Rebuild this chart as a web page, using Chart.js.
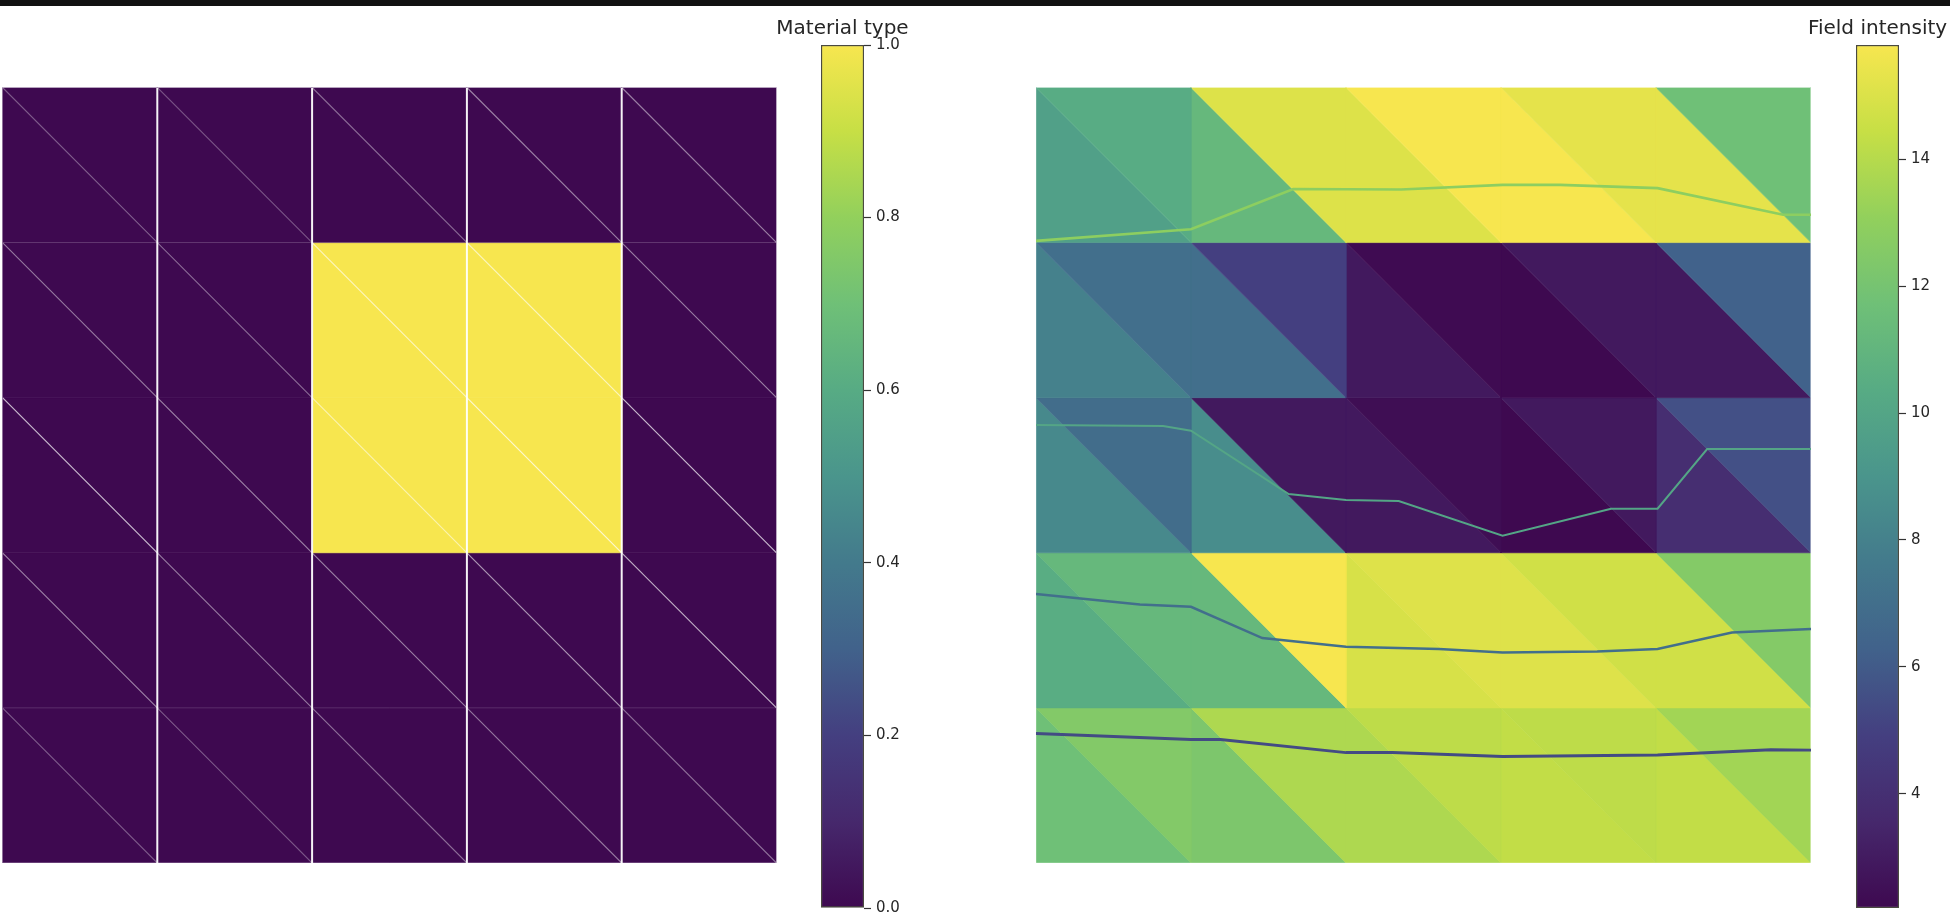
<!DOCTYPE html>
<html>
<head>
<meta charset="utf-8">
<title>Material type and field intensity</title>
<script src="https://cdn.jsdelivr.net/npm/chart.js@4/dist/chart.umd.min.js"></script>
<style>
  html, body { margin: 0; padding: 0; background: #fff; overflow: hidden; }
  #page { position: relative; width: 1950px; height: 920px; }
  #band { position: absolute; left: 0; top: 0; width: 1950px; height: 6px; background: #111; }
  canvas { position: absolute; }
</style>
</head>
<body>
<div id="page">
  <canvas id="material-mesh" style="left:2px;top:87px" width="777" height="777"></canvas>
  <canvas id="material-bar" style="left:770px;top:0" width="145" height="920"></canvas>
  <canvas id="field-mesh" style="left:1035px;top:87px" width="777" height="777"></canvas>
  <canvas id="field-bar" style="left:1805px;top:0" width="145" height="920"></canvas>
  <div id="band"></div>
</div>
<script>
// Each cell of the 5x5 grid is split by its top-left to bottom-right diagonal
var materialUpper = [
  [0, 0, 0, 0, 0],
  [0, 0, 1, 1, 0],
  [0, 0, 1, 1, 0],
  [0, 0, 0, 0, 0],
  [0, 0, 0, 0, 0],
];
var materialLower = [
  [0, 0, 0, 0, 0],
  [0, 0, 1, 1, 0],
  [0, 0, 1, 1, 0],
  [0, 0, 0, 0, 0],
  [0, 0, 0, 0, 0],
];
var fieldUpper = [
  [10.4, 15.05, 15.8, 15.3, 11.7],
  [7.0, 4.9, 2.3, 2.9, 6.3],
  [6.9, 2.9, 2.4, 2.9, 5.6],
  [11.2, 15.8, 15.1, 14.7, 12.55],
  [12.5, 13.8, 14.2, 14.2, 13.5],
];
var fieldLower = [
  [9.7, 11.2, 15.05, 15.8, 15.3],
  [8.0, 7.0, 2.9, 2.2, 2.9],
  [8.4, 8.6, 2.9, 2.2, 3.9],
  [10.5, 11.2, 14.9, 15.1, 14.7],
  [11.7, 12.25, 13.8, 14.3, 14.3],
];

// Strength of the light seam along each cell's diagonal in the left panel
var seamStrength = [
  [0.3, 0.25, 0.35, 0.45, 0.45],
  [0.42, 0.35, 0.6, 0.6, 0.45],
  [0.7, 0.45, 0.5, 0.7, 0.7],
  [0.45, 0.42, 0.45, 0.55, 0.65],
  [0.28, 0.28, 0.38, 0.42, 0.38],
];

// Contour lines, in grid units (x to the right, y downwards)
var contourLevels = [12.9, 10, 7, 5.4];
var contourX = [
  [0, 1, 1.66, 2.355, 3.01, 3.38, 4.01, 4.82, 5],
  [0, 0.82, 1, 1.63, 2, 2.34, 3.01, 3.71, 4.01, 4.33, 5],
  [0, 0.67, 1, 1.46, 2, 2.6, 3.01, 3.62, 4.01, 4.49, 5],
  [0, 1, 1.19, 2, 2.3, 3.01, 4.01, 4.74, 5],
];
var contourY = [
  [0.989, 0.914, 0.654, 0.658, 0.628, 0.628, 0.649, 0.82, 0.82],
  [2.176, 2.183, 2.213, 2.621, 2.66, 2.666, 2.89, 2.716, 2.716, 2.331, 2.331],
  [3.266, 3.333, 3.348, 3.55, 3.605, 3.62, 3.643, 3.636, 3.62, 3.514, 3.492],
  [4.165, 4.204, 4.204, 4.288, 4.288, 4.313, 4.304, 4.27, 4.272],
];
var contourWidths = [2.6, 2, 2.5, 2.9];

var materialRange = [0, 1];
var fieldRange = [2.2, 15.8];
var materialTicks = [0, 0.2, 0.4, 0.6, 0.8, 1];
var fieldTicks = [4, 6, 8, 10, 12, 14];

// Viridis as it looks in the reference
var ramp = ["#3e0950", "#46286c", "#443f80", "#41628b", "#437a8c", "#4a958c", "#57ab84", "#6fc077", "#92d05c", "#c7df45", "#f7e64f"];

function hexToRgb(hex) {
  return [1, 3, 5].map(function (i) {
    return parseInt(hex.substr(i, 2), 16);
  });
}

function rampColor(f) {
  f = Math.min(1, Math.max(0, f));
  var pos = f * (ramp.length - 1);
  var i = Math.min(ramp.length - 2, Math.floor(pos));
  var a = hexToRgb(ramp[i]);
  var b = hexToRgb(ramp[i + 1]);
  var t = pos - i;
  return "rgb(" + a.map(function (v, k) {
    return Math.round(v + (b[k] - v) * t);
  }).join(",") + ")";
}

function triangle(points, color) {
  return {
    data: points.concat([points[0]]),
    showLine: true,
    fill: "shape",
    backgroundColor: color,
    borderColor: color,
    borderWidth: 0.6,
    pointRadius: 0,
    order: 2,
  };
}

function overlayLine(points, color, width) {
  return {
    data: points,
    showLine: true,
    fill: false,
    borderColor: color,
    borderWidth: width,
    pointRadius: 0,
    order: 1,
  };
}

function meshTriangles(upper, lower, range) {
  var sets = [];
  var span = range[1] - range[0];
  upper.forEach(function (row, r) {
    row.forEach(function (value, c) {
      sets.push(triangle([{ x: c, y: r }, { x: c + 1, y: r }, { x: c + 1, y: r + 1 }], rampColor((value - range[0]) / span)));
      sets.push(triangle([{ x: c, y: r }, { x: c, y: r + 1 }, { x: c + 1, y: r + 1 }], rampColor((lower[r][c] - range[0]) / span)));
    });
  });
  return sets;
}

function outline(color) {
  return overlayLine(
    [{ x: 0, y: 0 }, { x: 5, y: 0 }, { x: 5, y: 5 }, { x: 0, y: 5 }, { x: 0, y: 0 }],
    color,
    1
  );
}

function meshChart(id, datasets, padding) {
  return new Chart(document.getElementById(id), {
    type: "scatter",
    data: { datasets: datasets },
    options: {
      responsive: false,
      animation: false,
      devicePixelRatio: 1,
      layout: { padding: padding },
      plugins: { legend: { display: false }, tooltip: { enabled: false } },
      scales: {
        x: { type: "linear", min: 0, max: 5, display: false },
        y: { type: "linear", min: 0, max: 5, reverse: true, display: false },
      },
    },
  });
}

function colorBar(id, title, range, ticks, decimals) {
  return new Chart(document.getElementById(id), {
    type: "bar",
    data: {
      labels: [title],
      datasets: [
        {
          yAxisID: "y",
          data: [[range[0], range[1]]],
          backgroundColor: function (context) {
            var area = context.chart.chartArea;
            if (!area) return ramp[0];
            var grad = context.chart.ctx.createLinearGradient(0, area.bottom, 0, area.top);
            ramp.forEach(function (c, i) {
              grad.addColorStop(i / (ramp.length - 1), c);
            });
            return grad;
          },
          borderColor: "#4a4a40",
          borderWidth: 1.5,
          borderSkipped: false,
          categoryPercentage: 1,
          barPercentage: 1,
        },
      ],
    },
    options: {
      responsive: false,
      animation: false,
      devicePixelRatio: 1,
      layout: { padding: { bottom: 12 } },
      plugins: {
        legend: { display: false },
        tooltip: { enabled: false },
        title: {
          display: true,
          text: title,
          color: "#262626",
          font: { family: "DejaVu Sans", size: 20, weight: "normal" },
          padding: { top: 17, bottom: 4 },
        },
      },
      scales: {
        x: { display: false },
        // empty axis, keeps the bar and the title centred on the same point
        spacer: {
          position: "left",
          afterFit: function (scale) {
            scale.width = 51;
          },
          border: { display: false },
          grid: { display: false },
          ticks: { display: false },
        },
        y: {
          position: "right",
          min: range[0],
          max: range[1],
          afterBuildTicks: function (scale) {
            scale.ticks = ticks.map(function (v) {
              return { value: v };
            });
          },
          afterFit: function (scale) {
            scale.width = 51;
            scale.paddingBottom = 0;
            scale.paddingTop = 0;
          },
          border: { display: false },
          grid: { drawOnChartArea: false, drawTicks: true, tickLength: 7, tickColor: "#333", tickWidth: 1.2 },
          ticks: {
            autoSkip: false,
            maxRotation: 0,
            padding: 5,
            color: "#262626",
            font: { family: "DejaVu Sans", size: 15 },
            callback: function (v) {
              return Number(v).toFixed(decimals);
            },
          },
        },
      },
    },
  });
}

// Left panel
var materialSets = meshTriangles(materialUpper, materialLower, materialRange);
seamStrength.forEach(function (row, r) {
  row.forEach(function (s, c) {
    materialSets.push(overlayLine([{ x: c, y: r }, { x: c + 1, y: r + 1 }], "rgba(255,255,255," + s + ")", 1.2));
  });
});
[1, 2, 3, 4].forEach(function (x) {
  materialSets.push(overlayLine([{ x: x, y: 0 }, { x: x, y: 5 }], "rgba(255,255,255,0.95)", 2));
});
[1, 4].forEach(function (y) {
  materialSets.push(overlayLine([{ x: 0, y: y }, { x: 5, y: y }], "rgba(255,255,255,0.16)", 1));
});
materialSets.push(outline("rgba(255,255,255,0.45)"));
meshChart("material-mesh", materialSets, { left: 0.5, top: 0.5, right: 2.5, bottom: 1 });

// Right panel
var fieldSets = meshTriangles(fieldUpper, fieldLower, fieldRange);
contourLevels.forEach(function (level, i) {
  var pts = contourX[i].map(function (x, k) {
    return { x: x, y: contourY[i][k] };
  });
  fieldSets.push(overlayLine(pts, rampColor((level - fieldRange[0]) / (fieldRange[1] - fieldRange[0])), contourWidths[i]));
});
fieldSets.push(outline("rgba(255,255,255,0.35)"));
meshChart("field-mesh", fieldSets, { left: 1, top: 0.5, right: 1, bottom: 1 });

colorBar("material-bar", "Material type", materialRange, materialTicks, 1);
colorBar("field-bar", "Field intensity", fieldRange, fieldTicks, 0);
</script>
</body>
</html>
